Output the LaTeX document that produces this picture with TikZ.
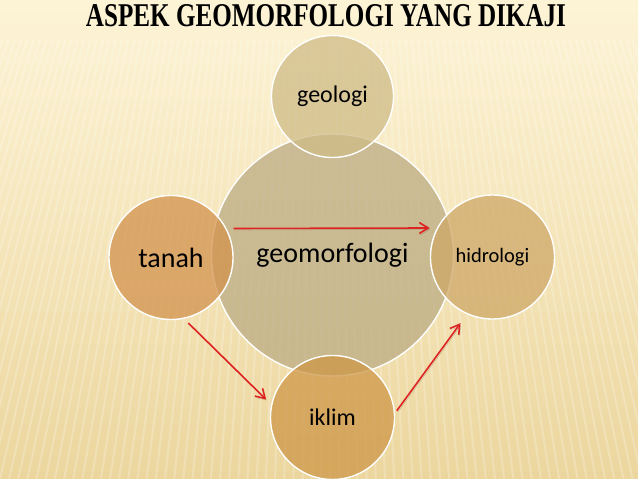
\documentclass[tikz,border=0pt]{standalone}
\usepackage{fontspec}
\usepackage{graphicx}
\setmainfont{Carlito}
\newfontfamily\titlefont{Liberation Serif}
\usetikzlibrary{arrows.meta}
\definecolor{bgtop}{RGB}{253,244,214}
\definecolor{bgbot}{RGB}{236,214,158}
\definecolor{pusatcol}{RGB}{188,172,132}
\definecolor{geolcol}{RGB}{207,187,134}
\definecolor{tanahcol}{RGB}{211,147,78}
\definecolor{hidrocol}{RGB}{207,168,104}
\definecolor{iklimcol}{RGB}{206,151,72}
\definecolor{panah}{RGB}{222,35,35}
\begin{document}
\begin{tikzpicture}[x=1pt, y=1pt,
  bubble/.style={circle, draw=white, line width=1.4pt, fill opacity=0.75, text opacity=1, inner sep=0pt, minimum size=124pt},
  link/.style={draw=panah, line width=1.6pt, -{Straight Barb[length=9pt,width=11pt]},
    preaction={draw=black, draw opacity=0.2, transform canvas={shift={(1pt,-1.5pt)}}}}]
\useasboundingbox (0,0) rectangle (638,479);
\shade[top color=bgtop, bottom color=bgbot] (0,0) rectangle (638,479);
\begin{scope}
\clip (0,0) rectangle (638,479);
\foreach \k in {-80,...,80}
  \draw[white, opacity=0.22, line width=2pt] ({330+\k*6.3},440) -- ({330+\k*9.3},-20);
\end{scope}
\node[inner sep=0pt] (judul) at (326,463) {\resizebox{480pt}{22pt}{\titlefont\bfseries ASPEK GEOMORFOLOGI YANG DIKAJI}};

\node[bubble, fill=pusatcol, minimum size=242pt, font=\fontsize{28}{30}\selectfont] (pusat) at (332.5,224){geomorfologi};
\node[bubble, fill=geolcol, minimum size=122pt, font=\fontsize{24}{26}\selectfont] (geologi) at (332.5,382.5){geologi};
\node[bubble, fill=tanahcol, font=\fontsize{28}{30}\selectfont] (tanah) at (171,221.5){tanah};
\node[bubble, fill=hidrocol, font=\fontsize{20.5}{22}\selectfont] (hidro) at (492.5,222){hidrologi};
\node[bubble, fill=iklimcol, font=\fontsize{24}{26}\selectfont] (iklim) at (332.5,61.5){iklim};
\draw[link]([yshift=29pt]tanah.east) -- ([yshift=29pt]hidro.west);
\draw[link, shorten <=6pt, shorten >=7pt](tanah.-78) -- (iklim.168);
\draw[link, shorten <=3pt, shorten >=11pt](iklim.4) -- (hidro.246);

\end{tikzpicture}
\end{document}
